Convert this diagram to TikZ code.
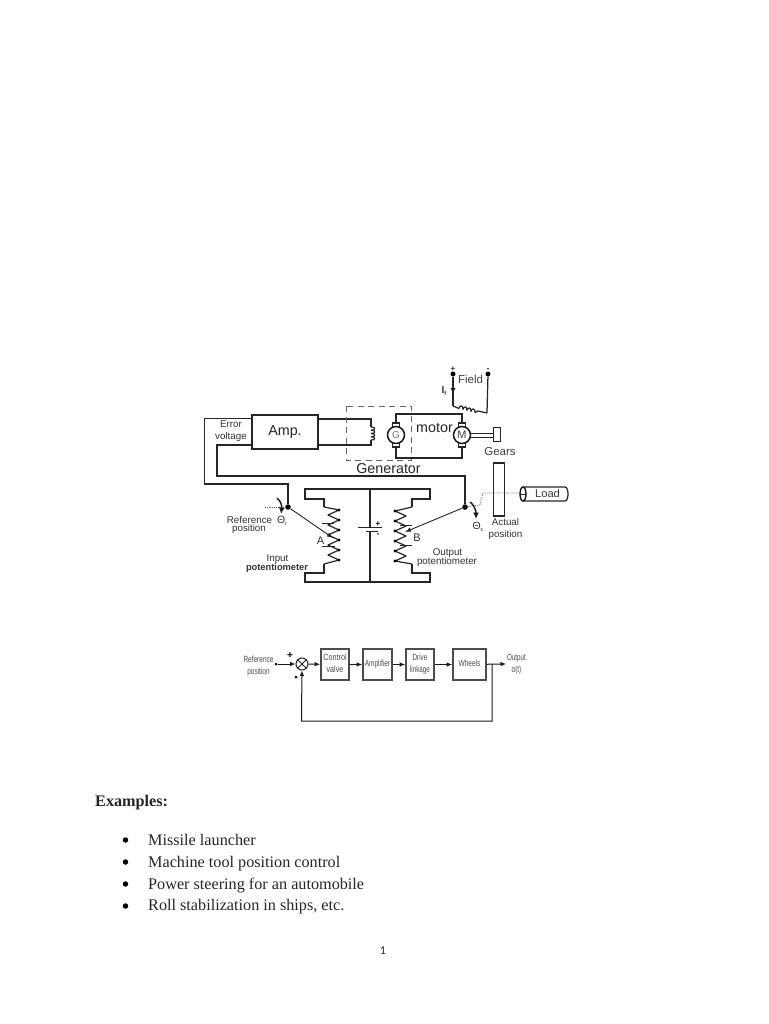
\documentclass[tikz,border=0pt]{standalone}
\usepackage{fontspec}
\setmainfont{Liberation Serif}
\newfontfamily\arialf{Liberation Sans}
\newfontfamily\calf{Carlito}
\usetikzlibrary{arrows.meta}
\newcommand\narrowtxt[2]{\scalebox{#1}[1]{\begin{tabular}{@{}c@{}}#2\end{tabular}}}
\tikzset{
  wire/.style={line width=1.25pt,black!85},
  thin wire/.style={line width=0.9pt,black!85},
  heavy/.style={line width=1.8pt,black!85},
  lab/.style={font=\arialf\fontsize{9.8}{9}\selectfont,inner sep=0,black!80,align=center},
  biglab/.style={font=\arialf\fontsize{14.3}{15}\selectfont,inner sep=0,black!85},
  midlab/.style={font=\arialf\fontsize{11.5}{12}\selectfont,inner sep=0,black!75},
  blocklab/.style={font=\arialf\fontsize{9}{12}\selectfont,inner sep=0,black!70,align=center},
  block/.style={draw=black!80,line width=1.6pt,minimum width=#1,minimum height=31pt,inner sep=0,blocklab},
  arr/.style={-{Latex[length=5.5pt,width=4.5pt]},line width=1pt,black!90},
  curv/.style={-{Latex[length=6.5pt,width=6pt]},line width=1.4pt,black!90},
  dotn/.style={circle,fill=black,inner sep=0,minimum size=#1},
  listt/.style={font=\fontsize{16.2}{18}\selectfont,anchor=base west,inner sep=0,black!85},
  bul/.style={circle,fill=black,inner sep=0,minimum size=5.5pt},
  brush/.style={draw=black!85,line width=1.1pt,fill=white,minimum width=7pt,minimum height=5pt,inner sep=0},
  coilz/.style={line width=1.2pt,black!85,line join=round},
}
\begin{document}
\begin{tikzpicture}[x=1pt,y=-1pt]
\useasboundingbox[fill=white] (0,0) rectangle (768,1024);
% Amp and error wires
\node[draw=black,line width=1.8pt,minimum width=66pt,minimum height=34pt,inner sep=0,biglab] (amp) at (285,432) {Amp.};
\coordinate (ampLT) at (252,418.5);
\coordinate (ampLB) at (252,445);
\coordinate (ampRT) at (318,419);
\coordinate (ampRB) at (318,445);
\node[dotn=5.5pt] (wipL) at (288,507) {};
\node[dotn=5.5pt] (wipR) at (465,507) {};
\draw[wire] (ampLT) -| (204.5,484) -| (wipL);
\draw[wire] (ampLB) -| (217,476) -| (wipR);
\node[lab] (err) at (231,431) {Error\\[3pt]voltage};
% generator field coil
\draw[wire] (ampRT) -- (371,419) -- (371,427);
\draw[wire] (ampRB) -- (371,445) -- (371,440);
\foreach \yy in {427,430.25,433.5,436.75}
  \draw[coilz] (371,\yy) .. controls (376,\yy-0.5) and (376,\yy+3.75) .. (371,\yy+3.25);
% Generator box
\draw[line width=1pt,black!60,dash pattern=on 6pt off 4.5pt] (346,406) rectangle (411,460);
\node[biglab] (gen) at (388.5,468.5) {Generator};
% G & M
\draw[wire] (396,426) -- (396,414) -- (462,414) -- (462,426);
\draw[wire] (396,444) -- (396,458) -- (462,458) -- (462,444);
\node[brush] (gb1) at (396,425.5) {};
\node[brush] (gb2) at (396,444.5) {};
\node[brush] (mb1) at (462,425.5) {};
\node[brush] (mb2) at (462,444.5) {};
\node[circle,draw=black!90,line width=1.5pt,fill=white,minimum size=17pt,inner sep=0,font=\arialf\fontsize{10}{9}\selectfont,text=black!55] (G) at (396,435) {G};
\node[circle,draw=black!90,line width=1.5pt,fill=white,minimum size=17pt,inner sep=0,font=\arialf\fontsize{11}{9}\selectfont,text=black!75] (M) at (462,435) {M};
\node[biglab] (motor) at (434.5,428) {motor};
% Shaft and gears
\draw[thin wire] (470,433) -- (493,433);
\draw[thin wire] (470,437.5) -- (493,437.5);
\node[draw=black!85,line width=1.3pt,minimum width=7pt,minimum height=14pt,inner sep=0] (gear) at (497,434.5) {};
\node[midlab] (gears) at (500,452) {Gears};
% Field
\node[dotn=5pt] (fp) at (453,374) {};
\node[dotn=5pt] (fm) at (488,374) {};
\node[font=\arialf\bfseries\fontsize{8}{8}\selectfont,inner sep=0,black!80] (fplus) at (453,369) {+};
\node[font=\arialf\bfseries\fontsize{9}{8}\selectfont,inner sep=0,black!80] (fminus) at (488,370) {-};
\draw[wire] (fp) -- (453,406);
\draw[wire] (fm) -- (487,413);
\draw[coilz] (453,406) -- (459,408.5);
\foreach \xx/\yy in {459/408.5,463/409.5,467/410.5,471/411.5}
  \draw[coilz] (\xx,\yy) .. controls (\xx+0.5,\yy-4) and (\xx+4.5,\yy-3) .. (\xx+4,\yy+1);
\draw[coilz] (475,412.5) -- (478,411) -- (487,413);
\draw[-{Latex[length=6pt,width=5.5pt]},wire] (453,385) -- (453,394);
\node[font=\arialf\bfseries\fontsize{10}{9}\selectfont,inner sep=0,black!80] (If) at (444,391) {I\raisebox{-1.5pt}{\fontsize{5.5}{5}\selectfont f}};
\node[midlab] (fld) at (470.5,379) {Field};
% Load side
\node[draw=black!85,line width=1.4pt,minimum width=11pt,minimum height=53pt,inner sep=0] (lgear) at (499,489.5) {};
\draw[wire] (523,487) -- (565,487) .. controls (569,487) and (569,501) .. (565,501) -- (523,501);
\draw[line width=1.4pt,black!90] (523,494) ellipse [x radius=3pt,y radius=7pt];
\draw[thin wire] (520,494) -- (526,494);
\node[font=\arialf\fontsize{11.2}{9}\selectfont,inner sep=0,black!75] (load) at (547.5,493.5) {Load};
\coordinate (dotA) at (480,505);
\coordinate (dotB) at (483,493);
\draw[line width=0.8pt,black!60,densely dotted] (wipR) -- (dotA) -- (dotB) -- (520,493);
\draw[curv] (470,502) .. controls (474,505) and (476,510) .. (476,519);
\node[font=\arialf\fontsize{10.5}{9}\selectfont,inner sep=0,black!80] (thc) at (478,527) {Θ\raisebox{-1.5pt}{\fontsize{5.5}{5}\selectfont c}};
\node[lab] (actual) at (505.5,528.5) {Actual\\[3pt]position};
% Left pot
\draw[wire] (370,489) -- (305,489) -- (305,499) -- (324,499) -- (324,507);
\draw[wire] (370,582) -- (305,582) -- (305,573) -- (324,573) -- (324,564);
\draw[coilz] (324,507) -- (339,510) -- (328,515) -- (339,520) -- (328,525) -- (339,530) -- (328,535) -- (339,540) -- (328,545) -- (339,550) -- (328,555) -- (339,560) -- (324,564);
\foreach \yy in {510,520,530,540,550,560} \fill[black] (339,\yy) circle[radius=1.6pt];
\draw[thin wire] (322,523) -- (334,523);
\draw[thin wire] (322,546) -- (335,546);
% Right pot
\draw[wire] (370,489) -- (430,489) -- (430,499) -- (412,499) -- (412,507);
\draw[wire] (370,582) -- (430,582) -- (430,573) -- (412,573) -- (412,564);
\draw[coilz] (412,564) -- (395,561) -- (406,556) -- (395,551) -- (406,546) -- (395,541) -- (406,536) -- (395,531) -- (406,526) -- (395,521) -- (406,516) -- (395,511) -- (412,507);
\foreach \yy in {511,521,531,541,551,561} \fill[black] (395,\yy) circle[radius=1.6pt];
\draw[thin wire] (400,525) -- (412,525);
\draw[thin wire] (400,545) -- (412,545);
% Wipers
\draw[-{Latex[length=6pt,width=4.5pt]},thin wire] (wipL) -- (333,538);
\draw[-{Latex[length=6pt,width=4.5pt]},thin wire] (wipR) -- (405,532);
\node[font=\arialf\fontsize{11}{9}\selectfont,inner sep=0,black!80] (A) at (320.5,541) {A};
\node[font=\arialf\fontsize{11}{9}\selectfont,inner sep=0,black!80] (B) at (417,538) {B};
% reference side
\draw[line width=0.8pt,black!60,densely dotted] (265,507) -- (wipL);
\draw[curv] (277,498) .. controls (281,501) and (282,506) .. (281,514);
\node[lab] (refl) at (249.5,520) {Reference};
\node[lab] (refp) at (249,529) {position};
\node[font=\arialf\fontsize{10.5}{9}\selectfont,inner sep=0,black!80] (tht) at (282,521) {Θ\raisebox{-1.5pt}{\fontsize{5.5}{5}\selectfont r}};
\node[lab] (inp) at (277.5,559.5) {Input};
\node[lab,font=\arialf\bfseries\fontsize{9.3}{9}\selectfont] (inp2) at (277,568.5) {potentiometer};
\node[lab] (outp) at (447.5,553) {Output};
\node[lab] (outp2) at (447,562) {potentiometer};
% Battery
\draw[heavy] (370,489) -- (370,527);
\draw[heavy] (370,531) -- (370,582);
\draw[line width=1.6pt,black!85] (358,527.5) -- (382,527.5);
\draw[line width=1.6pt,black!85] (366,531.5) -- (378,531.5);
\node[font=\arialf\bfseries\fontsize{8}{8}\selectfont,inner sep=0,black] (bp) at (378,524) {+};
\node[font=\arialf\bfseries\fontsize{8}{8}\selectfont,inner sep=0,black] (bm) at (378,535) {-};
% Block diagram
\node[block=28pt] (cv) at (335,664.5) {\narrowtxt{.8}{Control\\valve}};
\node[block=29pt] (am) at (377.5,664.5) {\narrowtxt{.72}{Amplifier}};
\node[block=28pt] (dl) at (420,664.5) {\narrowtxt{.7}{Drive\\linkage}};
\node[block=33pt] (wh) at (469.5,664.5) {\narrowtxt{.73}{Wheels}};
\node[circle,draw=black!85,line width=1pt,minimum size=12pt,inner sep=0] (sum) at (302,664) {};
\draw[line width=0.9pt,black!85] (sum.north west) -- (sum.south east);
\draw[line width=0.9pt,black!85] (sum.north east) -- (sum.south west);
\node[blocklab] (rp) at (258.5,666) {\narrowtxt{.72}{Reference\\position}};
\node[dotn=3pt] (rdot) at (276,664) {};
\node[blocklab] (opos) at (516.5,664) {\narrowtxt{.7}{Output\\α(t)}};
\coordinate (oe) at (506,664);
\coordinate (fbr) at (492,664);
\coordinate (fbb) at (492,721);
\coordinate (fbl) at (301.5,721);
\draw[arr] (rdot) -- (sum);
\draw[arr] (sum) -- (cv);
\draw[arr] (cv) -- (am);
\draw[arr] (am) -- (dl);
\draw[arr] (dl) -- (wh);
\draw[arr] (wh) -- (oe);
\draw[arr] (fbr) -- (fbb) -- (fbl) -- (sum);
\node[font=\arialf\bfseries\fontsize{10}{8}\selectfont,inner sep=0,black] (splus) at (290,656) {+};
\node[dotn=3pt] (sminus) at (296,677) {};
% Text
\node[font=\bfseries\fontsize{16.2}{18}\selectfont,anchor=base west,inner sep=0,black!85] (ex) at (95,806.5) {Examples:};
\node[bul] (b1) at (125.5,840) {};
\node[bul] (b2) at (125.5,862) {};
\node[bul] (b3) at (125.5,884) {};
\node[bul] (b4) at (125.5,906) {};
\node[listt] (l1) at (148,845) {Missile launcher};
\node[listt] (l2) at (148,867.5) {Machine tool position control};
\node[listt] (l3) at (148,889) {Power steering for an automobile};
\node[listt] (l4) at (148,910.5) {Roll stabilization in ships, etc.};
\node[font=\calf\fontsize{12}{12}\selectfont,inner sep=0,black!85] (pg) at (383,951) {1};
\end{tikzpicture}
\end{document}
